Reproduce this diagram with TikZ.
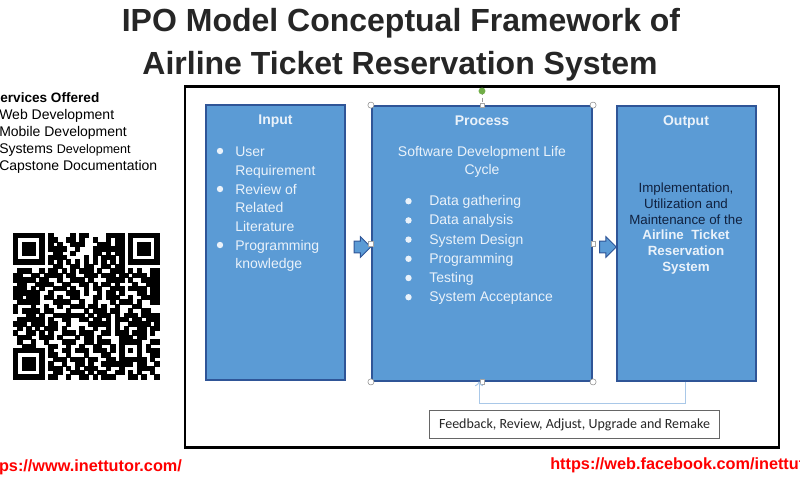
\documentclass[tikz,border=0pt]{standalone}
\usepackage{fontspec}
\setmainfont{Liberation Sans}
\newfontfamily\carlitofont{Carlito}
\usetikzlibrary{arrows,arrows.meta,positioning,shapes.arrows}
\definecolor{boxblue}{HTML}{5B9BD5}
\definecolor{boxline}{HTML}{2F5597}
\definecolor{darktext}{HTML}{10213F}
\definecolor{paletext}{HTML}{EAF2FA}
\definecolor{handlegreen}{HTML}{70AD47}
\definecolor{feedline}{HTML}{A9C8E8}
\tikzstyle{ipobox}=[draw=boxline,fill=boxblue,line width=1.6pt]
\tikzstyle{heading}=[text=paletext,font=\fontsize{10.5}{12}\selectfont\bfseries,anchor=base]
\tikzstyle{boxtext}=[text=paletext,font=\fontsize{10.5}{12}\selectfont,anchor=base west,inner sep=0pt]
\tikzstyle{blockarrow}=[single arrow,draw=boxline,fill=boxblue,line width=0.6pt,minimum height=12.5pt,inner xsep=0pt,inner ysep=4.1pt,single arrow head extend=3.4pt,single arrow head indent=0pt]
\tikzstyle{cornerhandle}=[circle,draw=black!45,fill=white,line width=0.4pt,minimum size=4.6pt,inner sep=0pt]
\tikzstyle{sidehandle}=[rectangle,draw=black!35,fill=white,line width=0.3pt,minimum size=3.4pt,inner sep=0pt]
\tikzstyle{sidelist}=[font=\fontsize{10.5}{12}\selectfont,anchor=base west,inner sep=0pt]
\tikzstyle{weblink}=[text=red,font=\fontsize{12.2}{14}\selectfont\bfseries,anchor=base west,inner sep=0pt]

\begin{document}
\begin{tikzpicture}[x=0.75pt,y=-0.75pt]
  \useasboundingbox (0,0) rectangle (800,480);

  % title
  \node[font=\fontsize{24}{28}\selectfont\bfseries,text=black!85,anchor=base] (title1) at (401,31) {IPO Model Conceptual Framework of};
  \node[font=\fontsize{24}{28}\selectfont\bfseries,text=black!85,anchor=base] (title2) at (400,74) {Airline Ticket Reservation System};

  % left column
  \node[sidelist,font=\fontsize{10.2}{12}\selectfont\bfseries] (offered) at (-9,102) {Services Offered};
  \node[sidelist] (web) at (-1,119) {Web Development};
  \node[sidelist] (mobile) at (-1,136) {Mobile Development};
  \node[sidelist] (systems) at (-1,153) {Systems {\fontsize{9.4}{12}\selectfont Development}};
  \node[sidelist] (capstone) at (-1,170) {Capstone Documentation};

  % qr code, rows of start/length runs
  \begin{scope}[shift={(13,233)},x=3.32pt,y=-3.32pt]
    \foreach \r/\runs in {
      0/{0/7,8/1,13/1,15/2,21/4,26/7},
      1/{0/1,6/1,8/2,12/2,15/1,18/1,21/1,23/2,26/1,32/1},
      2/{0/1,2/3,6/1,8/1,10/1,13/3,19/3,23/2,26/1,28/3,32/1},
      3/{0/1,2/3,6/1,8/3,11/1,14/1,18/7,26/1,28/3,32/1},
      4/{0/1,2/3,6/1,9/2,13/1,18/2,21/1,23/2,26/1,28/3,32/1},
      5/{0/1,6/1,8/3,11/1,16/1,18/1,20/3,24/1,26/1,32/1},
      6/{0/7,8/1,10/1,12/1,14/1,16/1,18/1,20/1,22/1,24/1,26/7},
      7/{9/2,13/2,16/2,20/2,23/2},
      8/{1/3,6/1,8/2,11/1,13/1,15/3,19/1,22/3,26/1,28/1,31/2},
      9/{0/2,4/2,7/4,12/2,16/3,20/3,24/2,27/3,31/2},
      10/{0/5,6/2,10/1,13/3,17/1,21/4,26/1,29/4},
      11/{1/2,5/4,11/2,15/2,18/1,20/2,23/1,27/1,30/3},
      12/{0/3,4/1,6/1,9/3,13/1,16/1,18/2,22/3,26/4,31/2},
      13/{0/6,8/1,12/3,16/1,19/1,21/2,24/1,28/2,31/2},
      14/{0/2,3/3,7/2,10/1,13/2,18/2,21/3,26/1,29/4},
      15/{1/5,9/4,15/1,18/1,22/1,24/3,28/1,31/2},
      16/{0/1,4/1,7/1,10/1,13/3,17/2,20/1,23/1,27/2},
      17/{0/1,2/4,7/2,12/1,16/1,18/3,22/2,26/1,29/2},
      18/{3/2,6/1,9/7,17/1,19/3,23/1,25/3,29/4},
      19/{1/6,8/1,11/2,15/2,18/2,21/1,23/3,27/2,30/3},
      20/{0/3,4/3,8/2,12/1,17/5,23/1,26/5,32/1},
      21/{1/1,3/1,5/1,7/3,11/1,15/1,18/1,21/1,23/1,25/1,28/2,31/2},
      22/{0/1,3/2,6/1,8/1,11/3,15/3,20/2,23/3,27/3,31/1},
      23/{1/3,6/3,10/1,14/1,16/2,19/1,24/3,28/2},
      24/{1/1,4/1,7/1,11/3,16/2,19/3,24/5,31/2},
      25/{2/3,8/2,12/1,15/1,18/2,22/1,24/1,28/1,30/1},
      26/{0/7,8/1,11/2,14/3,18/3,22/1,24/1,26/1,28/1,30/3},
      27/{0/1,6/1,8/2,12/1,16/1,20/2,24/1,28/1,31/2},
      28/{0/1,2/3,6/1,9/3,13/3,17/2,21/2,24/5,29/1,31/1},
      29/{0/1,2/3,6/1,8/1,11/1,14/2,17/1,20/7,28/2,32/1},
      30/{0/1,2/3,6/1,8/3,12/1,14/1,16/3,21/1,24/1,28/4},
      31/{0/1,6/1,9/2,13/3,17/1,19/2,23/2,26/1,28/1,31/1},
      32/{0/7,8/2,12/1,15/2,18/1,20/3,26/2,29/1,32/1}}
      \foreach \s/\l in \runs
        \filldraw[black,line width=0.25pt] (\s,\r) rectangle ++(\l,1);
  \end{scope}

  % frame and the three boxes
  \draw[black,line width=1.9pt] (185,86.5) rectangle (779,447.5);
  \node[ipobox,minimum width=104pt,minimum height=206pt,inner sep=0pt] (input) at (275.5,242.5) {};
  \node[ipobox,minimum width=165pt,minimum height=206pt,inner sep=0pt] (process) at (482,243.5) {};
  \node[ipobox,minimum width=104pt,minimum height=206pt,inner sep=0pt] (output) at (686.5,243.5) {};

  % input text
  \node[heading] (inputhead) at (275.5,124) {Input};
  \foreach \t/\yy in {User/156,Requirement/175,Review of/194,Related/212,Literature/231,Programming/250,knowledge/268}
    \node[boxtext] at (235,\yy) {\t};
  \foreach \yy in {151,189,245}
    \fill[paletext] (220,\yy) circle (2.4pt);

  % process text
  \node[heading] (processhead) at (482,125) {Process};
  \node[boxtext,anchor=base] (lifecycle1) at (482,156) {Software Development Life};
  \node[boxtext,anchor=base] (lifecycle2) at (482,174) {Cycle};
  \foreach \t [count=\i] in {Data gathering,Data analysis,System Design,Programming,Testing,System Acceptance}{
    \node[boxtext] at (429,186.5+19.2*\i) {\t};
    \fill[paletext] (408.5,182+19.2*\i) circle (2.4pt);
  }

  % output text
  \node[heading] (outputhead) at (686,125) {Output};
  \foreach \t [count=\i] in {{Implementation,},Utilization and,Maintenance of the}
    \node[text=darktext,font=\fontsize{10}{12}\selectfont,anchor=base,inner sep=0pt] at (686,176+16*\i) {\t};
  \foreach \t [count=\i] in {Airline\ \ Ticket,Reservation,System}
    \node[text=paletext,font=\fontsize{10}{12}\selectfont\bfseries,anchor=base,inner sep=0pt] at (686,223.5+16*\i) {\t};

  % block arrows between the boxes
  \node[blockarrow] (arrow1) at (359.5,247) {};
  \node[blockarrow] (arrow2) at (605,247) {};

  % selection handles of the process box
  \coordinate (rot) at (482,91);
  \draw[black!40,densely dashed,line width=0.4pt] (rot) -- (process.north);
  \fill[handlegreen] (rot) circle (2.6pt);
  \foreach \a in {north west,north east,south west,south east}
    \node[cornerhandle] at (process.\a) {};
  \foreach \a in {north,south,west,east}
    \node[sidehandle] at (process.\a) {};

  % feedback
  \node[draw=black!60,fill=white,line width=0.6pt,minimum width=218pt,minimum height=21.5pt,inner sep=0pt,font=\carlitofont\fontsize{10.5}{12}\selectfont,text=black!85] (feedback) at (574.5,424.5) {Feedback, Review, Adjust, Upgrade and Remake};
  \coordinate (feedout) at (685,381.5);
  \coordinate (feedin) at (479,381.5);
  \draw[-{To[length=3.5pt,width=6pt]},draw=feedline,line width=0.75pt] (feedout) -- (685,403) -- (479,403) -- (feedin);

  % links
  \node[weblink] (link1) at (-22,471) {https://www.inettutor.com/};
  \node[weblink] (link2) at (550,469) {https://web.facebook.com/inettutor};
\end{tikzpicture}
\end{document}
